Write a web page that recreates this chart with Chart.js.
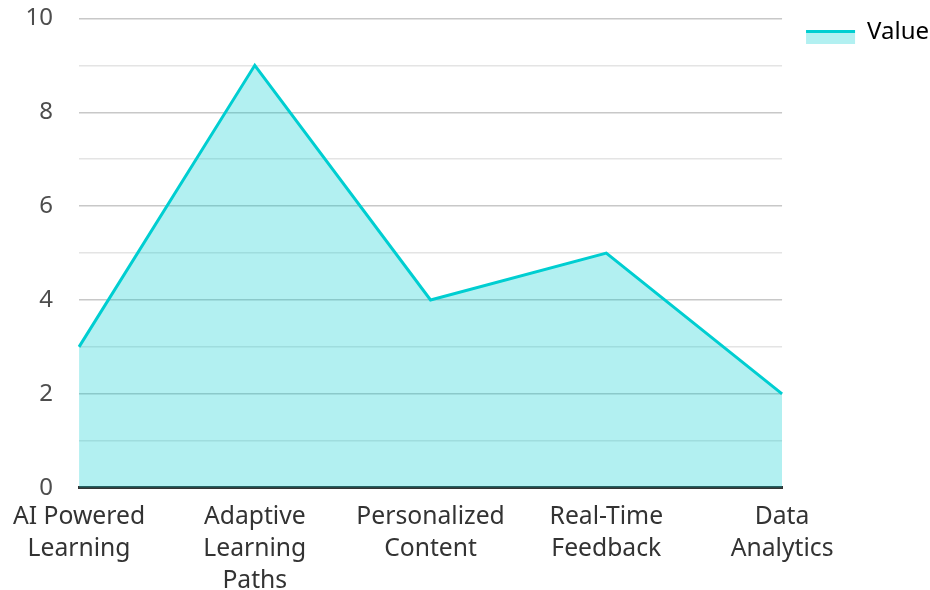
<!DOCTYPE html>
<html>
<head>
<meta charset="utf-8">
<script src="https://cdn.jsdelivr.net/npm/chart.js@4"></script>
<style>
  html, body { margin: 0; padding: 0; background: #fff; }
  #wrap { width: 930px; height: 590px; }
</style>
</head>
<body>
<div id="wrap"><canvas id="myChart" width="930" height="590"></canvas></div>
<script>
// chart data
const categories = [
  ["AI Powered", "Learning"],
  ["Adaptive", "Learning", "Paths"],
  ["Personalized", "Content"],
  ["Real-Time", "Feedback"],
  ["Data", "Analytics"]
];
const values = [3, 9, 4, 5, 2];
const yTickLabels = [0, 2, 4, 6, 8, 10];

const lineColor = "#00CED1";
const fillColor = "rgba(0, 206, 209, 0.3)";

// legend swatch: light fill with the line along its top edge
const legendSwatch = {
  id: "legendSwatch",
  afterDraw(chart) {
    const lg = chart.legend;
    if (!lg || !lg.legendHitBoxes) return;
    const ctx = chart.ctx;
    lg.legendHitBoxes.forEach((box) => {
      const x = box.left + 4;
      const y = box.top + 10;
      ctx.save();
      ctx.fillStyle = fillColor;
      ctx.fillRect(x, y, 49, 14);
      ctx.strokeStyle = lineColor;
      ctx.lineWidth = 3;
      ctx.beginPath();
      ctx.moveTo(x, y + 1.5);
      ctx.lineTo(x + 49, y + 1.5);
      ctx.stroke();
      ctx.restore();
    });
  }
};

const ctx = document.getElementById("myChart").getContext("2d");
new Chart(ctx, {
  type: "line",
  data: {
    labels: categories,
    datasets: [
      {
        label: "Value",
        data: values,
        borderColor: lineColor,
        backgroundColor: fillColor,
        borderWidth: 3,
        fill: "origin",
        tension: 0,
        pointRadius: 0,
        pointHoverRadius: 0
      }
    ]
  },
  options: {
    responsive: false,
    animation: false,
    layout: { padding: { top: 0, right: -9, left: 2, bottom: -20 } },
    plugins: {
      tooltip: { enabled: false },
      legend: {
        position: "right",
        align: "start",
        labels: {
          boxWidth: 53,
          boxHeight: 14,
          padding: 20,
          color: "#333",
          font: { family: "Noto Sans", size: 24 },
          generateLabels: (chart) => [
            {
              text: "Value",
              fillStyle: "rgba(0,0,0,0)",
              strokeStyle: "rgba(0,0,0,0)",
              lineWidth: 0,
              datasetIndex: 0
            }
          ]
        }
      }
    },
    scales: {
      x: {
        offset: false,
        grid: { display: false, drawTicks: false },
        border: { display: true, color: "#333", width: 3 },
        ticks: {
          color: "#333",
          padding: 13,
          maxRotation: 0,
          autoSkip: false,
          font: { family: "Noto Sans", size: 24.7, lineHeight: 1.3 }
        }
      },
      y: {
        min: 0,
        max: 10,
        grid: {
          drawTicks: true,
          tickLength: 22,
          tickColor: "rgba(0,0,0,0)",
          lineWidth: 1.5,
          color: (c) => (c.tick && yTickLabels.includes(c.tick.value) ? "#c8c8c8" : "#e4e4e4")
        },
        border: { display: false },
        ticks: {
          stepSize: 1,
          autoSkip: false,
          padding: 4,
          color: "#4d4d4d",
          font: { family: "Noto Sans", size: 24 },
          callback: (v) => (yTickLabels.includes(v) ? v : "")
        }
      }
    }
  },
  plugins: [legendSwatch]
});
</script>
</body>
</html>
